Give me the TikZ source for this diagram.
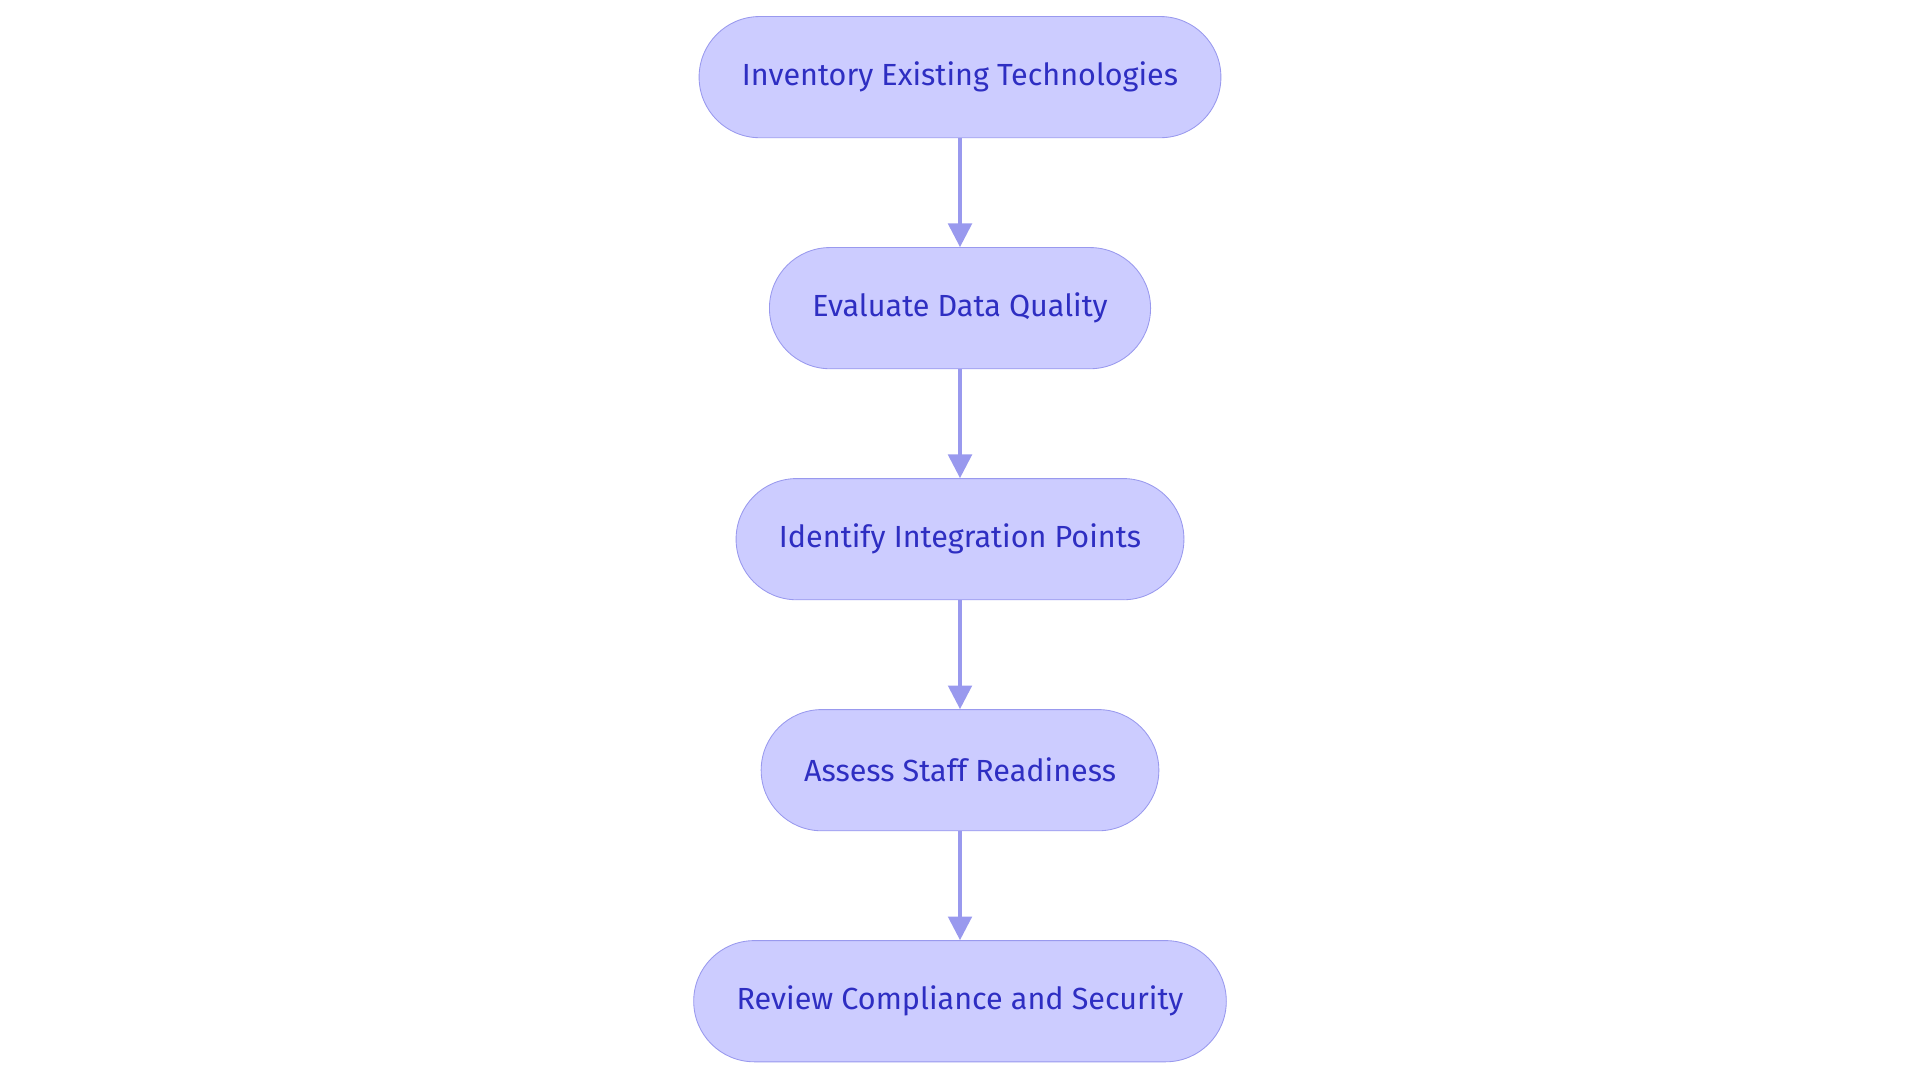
\documentclass[tikz,border=0pt]{standalone}
\usepackage{fontspec}
\setmainfont{Fira Sans}
\usetikzlibrary{positioning,arrows.meta}
\definecolor{stepfill}{HTML}{CCCCFF}
\definecolor{stepline}{HTML}{9999EE}
\definecolor{steptext}{HTML}{2E2EC2}
\begin{document}
\begin{tikzpicture}[x=0.02cm,y=-0.02cm,
		stepbox/.style={draw=stepline, fill=stepfill, text=steptext, rounded corners=0.99cm,
			minimum height=1.98cm, inner xsep=0.7cm, font=\fontsize{14.2}{16}\selectfont},
		flow/.style={draw=stepline, line width=1.5pt, -{Triangle[length=11pt,width=11pt]}},
		node distance=1.78cm]
		% Bounding box
		\useasboundingbox (0,0) rectangle (1568,884);
		
		% Steps
		\node[stepbox] (inv) at (784,63) {Inventory Existing Technologies};
		\node[stepbox, below=of inv] (eval) {Evaluate Data Quality};
		\node[stepbox, below=of eval] (ident) {Identify Integration Points};
		\node[stepbox, below=of ident] (staff) {Assess Staff Readiness};
		\node[stepbox, below=of staff] (review) {Review Compliance and Security};
		
		% Arrows
		\draw[flow] (inv) -- (eval);
		\draw[flow] (eval) -- (ident);
		\draw[flow] (ident) -- (staff);
		\draw[flow] (staff) -- (review);
	\end{tikzpicture}
\end{document}
